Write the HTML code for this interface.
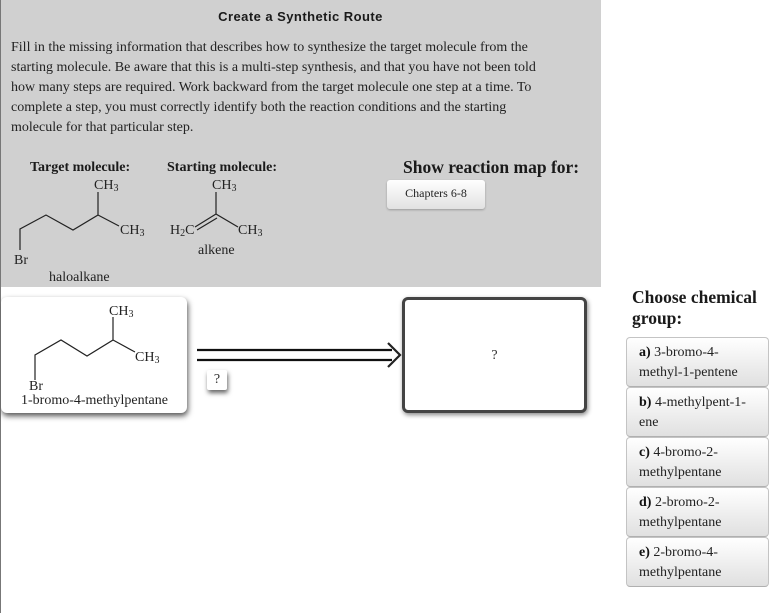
<!DOCTYPE html>
<html>
<head>
<meta charset="utf-8">
<style>
html,body{margin:0;padding:0;background:#fff;}
#p{position:relative;width:780px;height:613px;overflow:hidden;background:#fff;font-family:"Liberation Serif",serif;color:#222;}
#p div{position:absolute;white-space:nowrap;box-sizing:border-box;}
.l{font-size:14px;line-height:20px;left:11px;color:#222;}
.b{font-weight:bold;color:#1a1a1a;}
.m{font-size:14px;line-height:16px;color:#222;}
.o{left:626px;width:143px;height:50px;border:1px solid #c4c4c4;border-bottom:1px solid #b0b0b0;border-radius:4px;background:linear-gradient(#fff,#e0e0e0);font-size:14px;line-height:20px;padding:5px 0 0 12px;color:#222;}
.o b{color:#111;}
svg{position:absolute;left:0;top:0;}
sub{font-size:10px;line-height:0;vertical-align:-2px;}
</style>
</head>
<body>
<div id="p">
<div style="left:0;top:0;width:601px;height:287px;background:#d0d0d0;"></div>
<div style="left:0;top:0;width:1px;height:613px;background:#777;"></div>
<div style="left:0;width:601px;top:9px;text-align:center;font:bold 13px/16px 'Liberation Sans',sans-serif;letter-spacing:.45px;color:#1a1a1a;">Create a Synthetic Route</div>
<div class="l" style="top:38px;">Fill in the missing information that describes how to synthesize the target molecule from the</div>
<div class="l" style="top:58px;">starting molecule. Be aware that this is a multi-step synthesis, and that you have not been told</div>
<div class="l" style="top:78px;">how many steps are required. Work backward from the target molecule one step at a time. To</div>
<div class="l" style="top:98px;">complete a step, you must correctly identify both the reaction conditions and the starting</div>
<div class="l" style="top:118px;">molecule for that particular step.</div>
<div class="b" style="left:30px;top:160px;font-size:14px;line-height:16px;">Target molecule:</div>
<div class="b" style="left:167px;top:160px;font-size:14px;line-height:16px;">Starting molecule:</div>
<div class="b" style="left:403px;top:157px;font-size:17.5px;line-height:20px;">Show reaction map for:</div>
<div style="left:387px;top:180px;width:98px;height:29px;border-radius:3px;background:linear-gradient(#fff,#e2e2e2);box-shadow:0 1px 2px #999;font-size:12px;line-height:26px;text-align:center;color:#222;">Chapters 6-8</div>

<div class="m" style="left:94px;top:178px;">CH<sub>3</sub></div>
<div class="m" style="left:120px;top:223px;">CH<sub>3</sub></div>
<div class="m" style="left:14px;top:253px;">Br</div>
<div class="m" style="left:49px;top:270px;">haloalkane</div>
<div class="m" style="left:212px;top:178px;">CH<sub>3</sub></div>
<div class="m" style="left:170px;top:223px;">H<sub>2</sub>C</div>
<div class="m" style="left:238px;top:223px;">CH<sub>3</sub></div>
<div class="m" style="left:198px;top:243px;">alkene</div>

<div style="left:1px;top:297px;width:186px;height:116px;background:#fff;border-radius:6px;box-shadow:1px 3px 6px #555;"></div>
<div class="m" style="left:109px;top:304px;">CH<sub>3</sub></div>
<div class="m" style="left:135px;top:350px;">CH<sub>3</sub></div>
<div class="m" style="left:29px;top:379px;">Br</div>
<div class="m" style="left:21px;top:393px;">1-bromo-4-methylpentane</div>

<div style="left:207px;top:370px;width:20px;height:20px;background:#fff;border-radius:2px;box-shadow:1px 3px 5px #666;font-size:14px;line-height:19px;text-align:center;color:#333;">?</div>
<div style="left:402px;top:297px;width:185px;height:116px;background:#fff;border:3px solid #444;border-radius:6px;box-shadow:1px 2px 5px #888;font-size:14px;line-height:112px;text-align:center;color:#333;">?</div>

<svg width="780" height="613" fill="none" stroke="#222" stroke-width="1.2">
<path d="M20 250V229L46 215L73 230L98 215V192M98 215L119 226"/>
<path d="M216 192V214L238 227M216 214L195 227M217 218L197 230"/>
<path d="M35 380V355L61 340L87 356L113 340V317M113 340L135 352"/>
<path d="M197 350H392M197 360H392" stroke="#111" stroke-width="2.2"/>
<path d="M388 343L400 355L388 367" stroke="#222" stroke-width="2.2"/>
</svg>

<div class="b" style="left:632px;top:287px;font-size:17.5px;line-height:21px;white-space:normal;width:140px;">Choose chemical group:</div>
<div class="o" style="top:337px;"><b>a)</b> 3-bromo-4-<br>methyl-1-pentene</div>
<div class="o" style="top:387px;"><b>b)</b> 4-methylpent-1-<br>ene</div>
<div class="o" style="top:437px;"><b>c)</b> 4-bromo-2-<br>methylpentane</div>
<div class="o" style="top:487px;"><b>d)</b> 2-bromo-2-<br>methylpentane</div>
<div class="o" style="top:537px;"><b>e)</b> 2-bromo-4-<br>methylpentane</div>
</div>
</body>
</html>
